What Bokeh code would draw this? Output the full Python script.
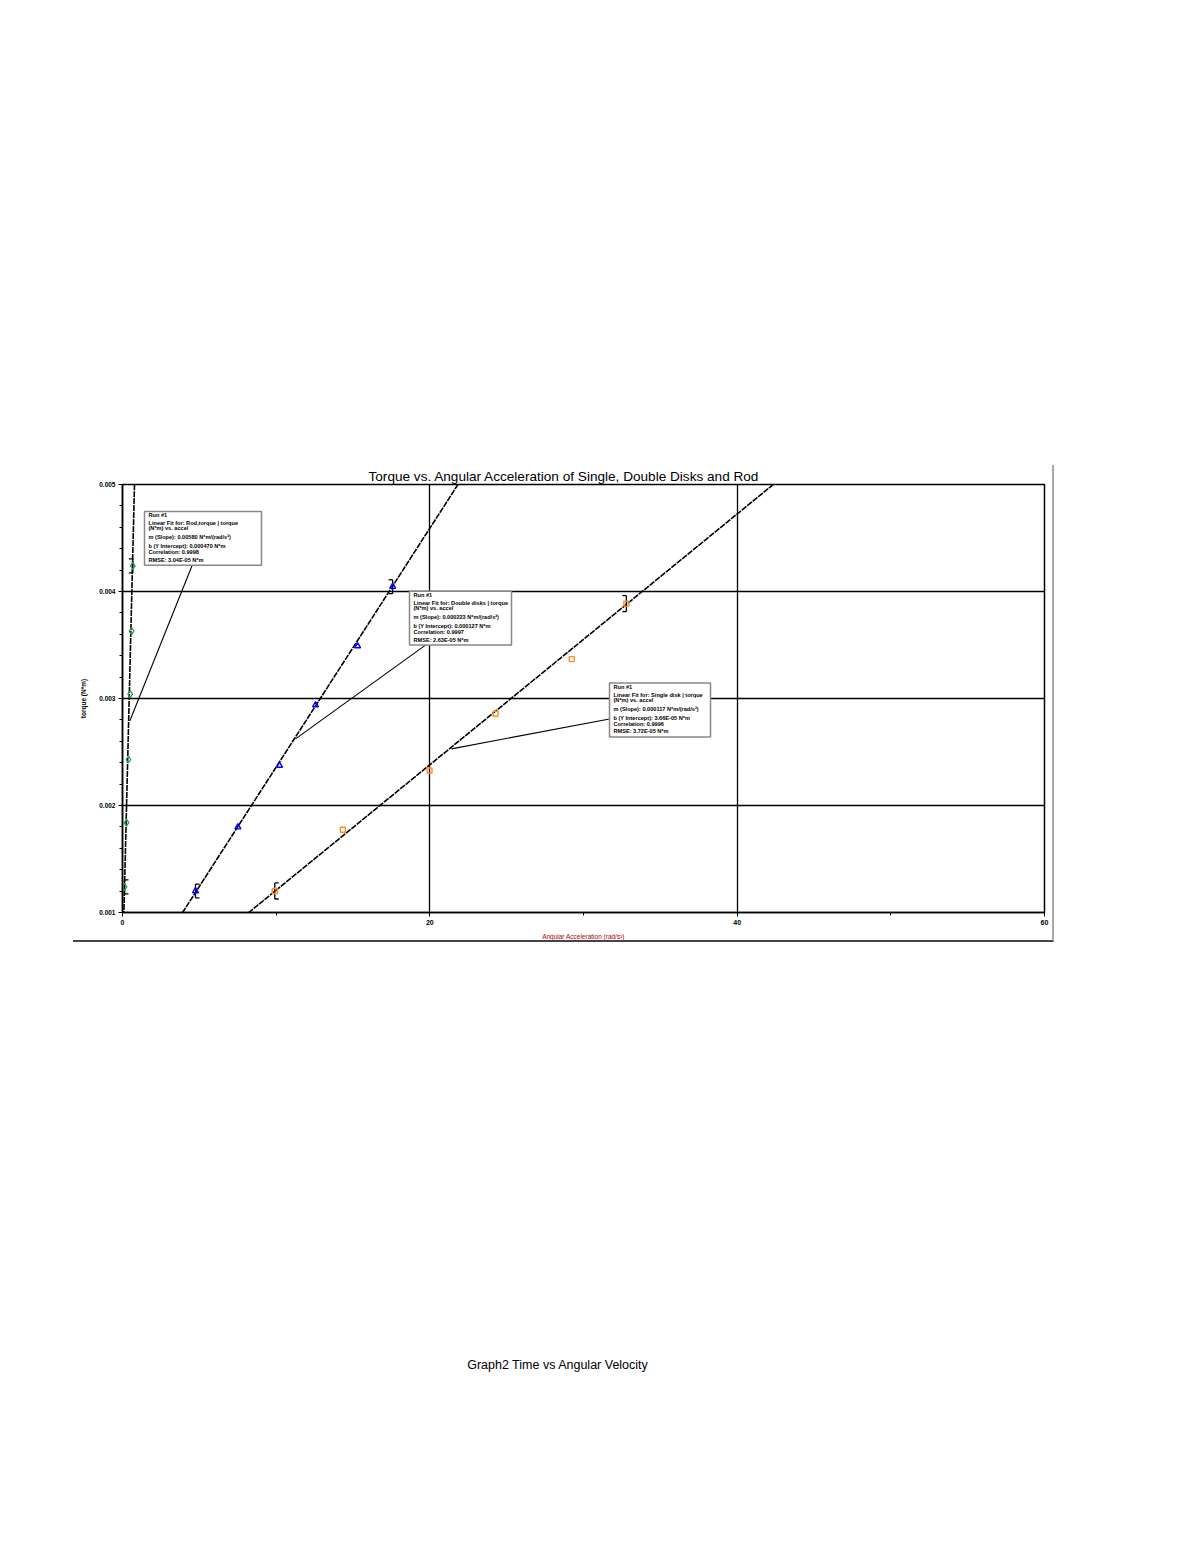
from bokeh.plotting import figure
from bokeh.models import (ColumnDataSource, FixedTicker, Spacer, Div, Title)
from bokeh.layouts import column, row
from bokeh.core.properties import value
from bokeh.embed import file_html
from bokeh.resources import INLINE

# ---------------- data ----------------
rod_x = [0.13, 0.26, 0.39, 0.50, 0.59, 0.67]
rod_y = [0.00124, 0.00184, 0.00243, 0.00304, 0.00363, 0.00424]
double_x = [4.75, 7.51, 10.22, 12.56, 15.30, 17.58]
double_y = [0.001201, 0.001798, 0.002373, 0.002939, 0.003490, 0.004045]
single_x = [9.91, 14.34, 19.98, 24.28, 29.23, 32.79]
single_y = [0.001201, 0.001774, 0.002327, 0.002858, 0.003368, 0.003887]

# error bars shown on first and last points of each run
rod_err = [0.000065, 0, 0, 0, 0, 0.000065]
double_err = [0.000065, 0, 0, 0, 0, 0.000065]
single_err = [0.000075, 0, 0, 0, 0, 0.000075]

# linear fits (slope N*m/(rad/s^2), intercept N*m)
rod_fit = (0.00580, 0.000470)
double_fit = (0.0002232, 0.0001273)
single_fit = (0.0001172, 0.0000366)

x_ticks = [0, 20, 40, 60]
x_minor = [10, 30, 50]
y_ticks = [0.001, 0.002, 0.003, 0.004, 0.005]
y_minor = [0.001 + 0.0002 * i for i in range(21)]

rod_box = ["Run #1", "Linear Fit for: Rod,torque | torque", "(N*m) vs. accel",
           "m (Slope): 0.00580 N*m/(rad/s\u00b2)", "b (Y Intercept): 0.000470 N*m",
           "Correlation: 0.9998", "RMSE: 3.04E-05 N*m"]
double_box = ["Run #1", "Linear Fit for: Double disks | torque", "(N*m) vs. accel",
              "m (Slope): 0.000223 N*m/(rad/s\u00b2)", "b (Y Intercept): 0.000127 N*m",
              "Correlation: 0.9997", "RMSE: 2.63E-05 N*m"]
single_box = ["Run #1", "Linear Fit for: Single disk | torque", "(N*m) vs. accel",
              "m (Slope): 0.000117 N*m/(rad/s\u00b2)", "b (Y Intercept): 3.66E-05 N*m",
              "Correlation: 0.9996", "RMSE: 3.72E-05 N*m"]

title_text = "Torque vs. Angular Acceleration of Single, Double Disks and Rod"
x_label = "Angular Acceleration (rad/s\u00b2)"
y_label = "torque (N*m)"
caption = "Graph2 Time vs Angular Velocity"

# ---------------- layout helpers (page pixel -> data) ----------------
FL, FR, FT, FB = 122.0, 1044.0, 483.0, 912.0
X0, X1, Y0, Y1 = 0.0, 60.0, 0.001, 0.005


def dx(px):
    return X0 + (px - FL) / (FR - FL) * (X1 - X0)


def dy(py):
    return Y0 + (FB - py) / (FB - FT) * (Y1 - Y0)


FONT = "Liberation Sans"

p = figure(width=981, height=477, x_range=(X0, X1), y_range=(Y0, Y1),
           output_backend="svg", toolbar_location=None,
           min_border_left=49, min_border_right=10, min_border_top=18,
           min_border_bottom=30)
p.title = Title(text=title_text, align="left", offset=246, standoff=2,
                text_font=FONT, text_font_size="13.6px", text_font_style="normal",
                text_color="#000000")
p.background_fill_color = "white"
p.border_fill_color = "white"
p.outline_line_color = "black"
p.outline_line_width = 1.5
p.styles = {"border-right": "2px solid #a8a8a8", "border-bottom": "2px solid #444444"}

# axes
p.xaxis.ticker = FixedTicker(ticks=x_ticks, minor_ticks=x_minor)
p.yaxis.ticker = FixedTicker(ticks=y_ticks, minor_ticks=y_minor)
for ax in (p.xaxis[0], p.yaxis[0]):
    ax.axis_line_color = "black"
    ax.axis_line_width = 1.5
    ax.major_tick_line_color = "black"
    ax.minor_tick_line_color = "black"
    ax.major_tick_out = 4
    ax.major_tick_in = 0
    ax.minor_tick_out = 3
    ax.minor_tick_in = 0
    ax.major_label_text_font = FONT
    ax.major_label_text_font_style = "bold"
    ax.major_label_text_color = "black"
    ax.axis_label_text_font = FONT
    ax.axis_label_text_font_style = "bold"
p.xaxis.major_label_text_font_size = "7px"
p.yaxis.major_label_text_font_size = "6.5px"
p.xaxis.major_label_standoff = 3
p.yaxis.major_label_standoff = 3
p.yaxis.major_label_overrides = {t: f"{t:.3f}" for t in y_ticks}
p.xaxis.axis_label = x_label
p.xaxis.axis_label_text_color = "#aa0000"
p.xaxis.axis_label_text_font_size = "6.5px"
p.xaxis.axis_label_text_font_style = "normal"
p.xaxis.axis_label_standoff = 5
p.yaxis.axis_label = y_label
p.yaxis.axis_label_text_color = "black"
p.yaxis.axis_label_text_font_size = "6.5px"
p.yaxis.axis_label_standoff = 9

p.xgrid.ticker = FixedTicker(ticks=x_ticks)
p.ygrid.ticker = FixedTicker(ticks=y_ticks)
p.grid.grid_line_color = "black"
p.grid.grid_line_width = 1.3
p.grid.grid_line_alpha = 1.0

# fit lines
for (m, b) in (rod_fit, double_fit, single_fit):
    ys = [Y0 - 0.0005, Y1 + 0.0005]
    xs = [(y - b) / m for y in ys]
    p.line(xs, ys, line_color="black", line_width=1.6, line_dash="6 1")

# error bars
cap = dx(FL + 4) - dx(FL)
for xs_, ys_, es_ in ((rod_x, rod_y, rod_err), (double_x, double_y, double_err),
                      (single_x, single_y, single_err)):
    n = len(xs_)
    idx = [i for i in range(n) if es_[i] > 0]
    vx = [xs_[i] for i in idx]
    vy0 = [ys_[i] - es_[i] for i in idx]
    vy1 = [ys_[i] + es_[i] for i in idx]
    p.segment(vx, vy0, vx, vy1, line_color="black", line_width=1.3)
    sign = [1 if i == 0 else -1 for i in idx]
    cx1 = [x + s * cap for x, s in zip(vx, sign)]
    p.segment(vx, vy0, cx1, vy0, line_color="black", line_width=1.3)
    p.segment(vx, vy1, cx1, vy1, line_color="black", line_width=1.3)

# markers
p.scatter(rod_x, rod_y, marker="diamond", size=7, fill_color=None,
          line_color="#2e9a5a", line_width=1.3)
p.scatter(double_x, double_y, marker="triangle", size=6, fill_color=None,
          line_color="#0000ff", line_width=1.4)
p.scatter(single_x, single_y, marker="square", size=5, fill_color=None,
          line_color="#ff9020", line_width=1.4)

# annotation boxes with leader lines
boxes = [
    (rod_box, (144, 510, 261, 564), (191.7, 564), (129.3, 720)),
    (double_box, (409, 590, 511, 644), (425, 644), (295, 738)),
    (single_box, (609, 682, 710, 736), (609, 718), (451, 748)),
]
line_offsets = [3.5, 11.5, 17, 26, 35, 41, 48.5]
for texts, (l, t, r, btm), (sx, sy), (ex, ey) in boxes:
    p.segment([dx(sx)], [dy(sy)], [dx(ex)], [dy(ey)], line_color="black", line_width=1.1)
    p.quad(left=[dx(l)], right=[dx(r)], top=[dy(t)], bottom=[dy(btm)],
           fill_color="white", line_color="#888888", line_width=1.5)
    src = ColumnDataSource(dict(
        x=[dx(l + 4)] * len(texts),
        y=[dy(t + o) for o in line_offsets[:len(texts)]],
        text=texts))
    p.text(x="x", y="y", text="text", source=src, text_font=value(FONT),
           text_font_size="5.6px", text_font_style="bold", text_color="black",
           text_baseline="middle", text_align="left")

cap_div = Div(text=caption, width=1105,
              styles={"text-align": "center", "font-family": "Liberation Sans, Arial, sans-serif",
                      "font-size": "12.5px", "color": "black"})

layout = column(Spacer(height=465),
                row(Spacer(width=73), p),
                Spacer(height=410),
                cap_div)

open("out.html", "w").write(file_html(layout, INLINE))
